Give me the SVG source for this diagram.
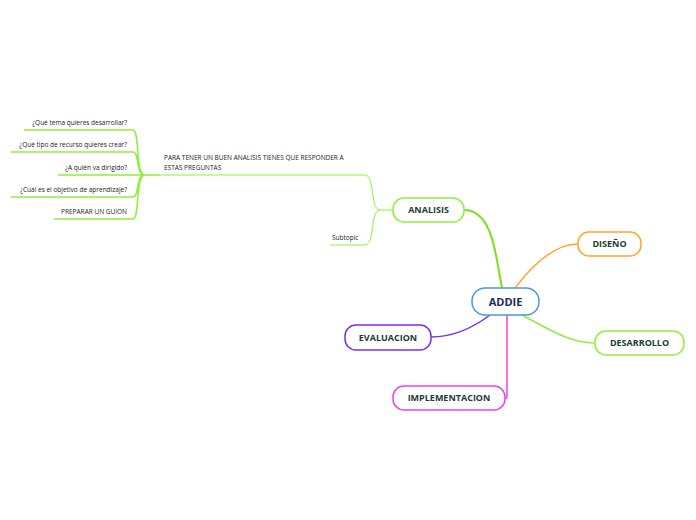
<svg xmlns="http://www.w3.org/2000/svg" width="696" height="520" viewBox="0 0 696 520">
<style>
.n{fill:#fff;stroke-width:1.5}
.t{font-family:"Open Sans","DejaVu Sans",sans-serif;font-weight:bold;font-size:9px;fill:#1a3d2e;text-anchor:middle}
.s{font-family:"Open Sans","DejaVu Sans",sans-serif;font-size:6.5px;fill:#222}
.g{fill:none;stroke:#8ef03a}
</style>
<rect width="696" height="520" fill="#fff"/>
<g id="connectors" fill="none">
<path d="M502,288 C496,260 494,210 464,210" stroke="#7ee01a" stroke-width="2"/>
<path d="M515,288 C540,255 560,244 578,244" stroke="#ffa530" stroke-width="1.5"/>
<path d="M522,315 C550,330 570,343 595,343" stroke="#8ef03a" stroke-width="1.5"/>
<path d="M490,315 C470,330 450,337 431,337" stroke="#7b2ff0" stroke-width="1.5"/>
<path d="M507,315 L507,395 C507,400 505,398 505,398" stroke="#f040e8" stroke-width="1.5"/>
<path class="g" d="M393,210 L380,210 C370,210 375,175 365,175 L160,175" stroke-width="1"/>
<path class="g" d="M380,210 C370,210 375,245 365,245 L330,245" stroke-width="1"/>
<path class="g" d="M160,175 L145,175 M145,175 C135,175 140,130 133,130 L24,130 M145,175 C135,175 140,152 133,152 L11,152 M145,175 L58,175 M145,175 C135,175 140,197 133,197 L11,197 M145,175 C135,175 140,219 133,219 L54,219" stroke-width="1.5"/>
</g>
<g id="addie"><rect class="n" x="472" y="288" width="67" height="27" rx="13" stroke="#4a9ad4"/><text class="t" x="505.5" y="305.5" style="font-size:11px;fill:#1a2a55">ADDIE</text></g>
<g id="analisis"><rect class="n" x="393" y="198" width="71" height="24" rx="11" stroke="#8ef03a"/><text class="t" x="428.5" y="213">ANALISIS</text></g>
<g id="diseno"><rect class="n" x="578" y="232" width="63" height="24" rx="11" stroke="#ffa530"/><text class="t" x="609.5" y="247">DISEÑO</text></g>
<g id="desarrollo"><rect class="n" x="595" y="331" width="89" height="24" rx="11" stroke="#8ef03a"/><text class="t" x="639.5" y="346">DESARROLLO</text></g>
<g id="evaluacion"><rect class="n" x="345" y="325" width="86" height="25" rx="11" stroke="#7b2ff0"/><text class="t" x="388" y="340.5">EVALUACION</text></g>
<g id="implementacion"><rect class="n" x="393" y="386" width="112" height="24" rx="11" stroke="#f040e8"/><text class="t" x="449" y="401">IMPLEMENTACION</text></g>
<g id="preguntas"><text class="s" x="164" y="160">PARA TENER UN BUEN ANALISIS TIENES QUE RESPONDER A</text><text class="s" x="164" y="170">ESTAS PREGUNTAS</text></g>
<g id="subtopic"><text class="s" x="332" y="240">Subtopic</text></g>
<g id="q1"><text class="s" x="127" y="125" text-anchor="end">¿Qué tema quieres desarrollar?</text></g>
<g id="q2"><text class="s" x="127" y="147" text-anchor="end">¿Qué tipo de recurso quieres crear?</text></g>
<g id="q3"><text class="s" x="127" y="170" text-anchor="end">¿A quién va dirigido?</text></g>
<g id="q4"><text class="s" x="127" y="192" text-anchor="end">¿Cuál es el objetivo de aprendizaje?</text></g>
<g id="q5"><text class="s" x="127" y="214" text-anchor="end">PREPARAR UN GUION</text></g>
</svg>
